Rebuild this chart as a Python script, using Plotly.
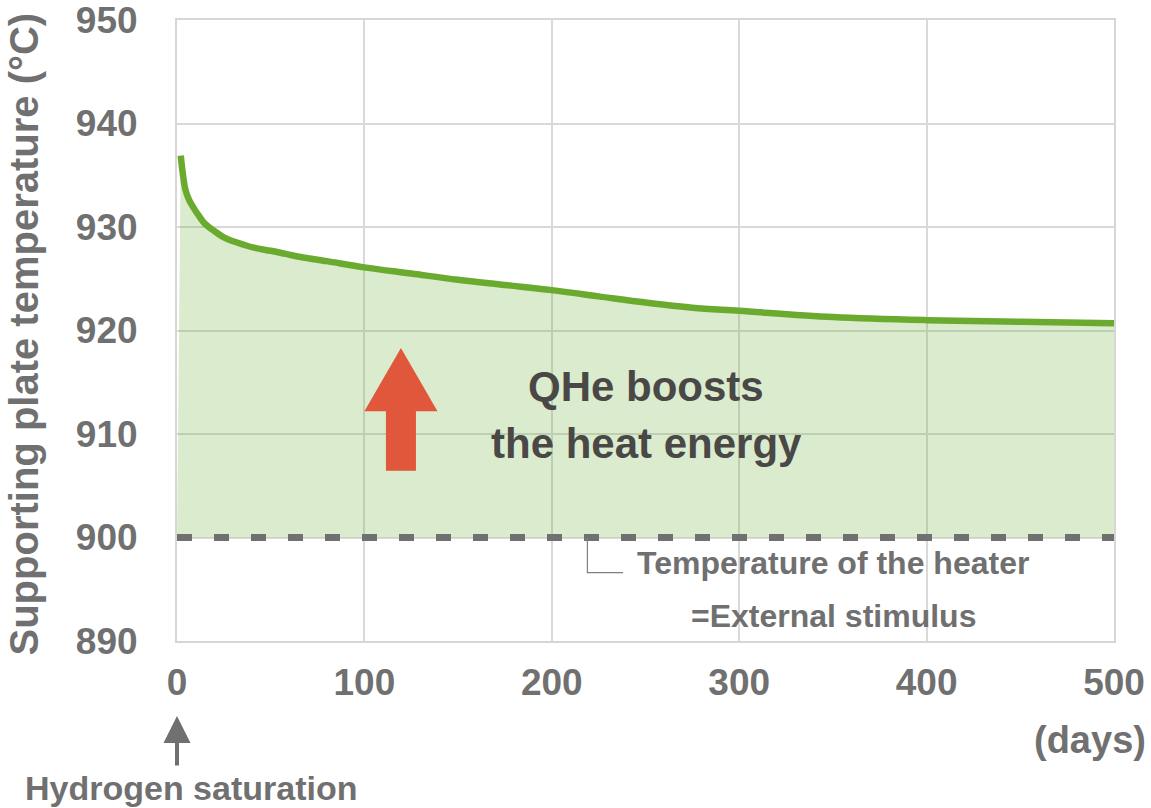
import plotly.graph_objects as go

# ---- data ----
days = [2, 3, 4.5, 6.5, 8.7, 12, 15, 20, 25, 32, 41, 50, 58, 66, 80, 100,
        125, 150, 175, 200, 225, 250, 275, 300, 350, 400, 450, 500]
plate_temp = [936.9, 935.3, 933.6, 932.6, 931.9, 931.0, 930.3, 929.6, 929.0,
              928.5, 928.0, 927.7, 927.4, 927.1, 926.7, 926.1, 925.5, 924.9,
              924.4, 923.9, 923.3, 922.7, 922.2, 921.9, 921.3, 921.0, 920.85, 920.7]
heater_days = [0, 500]
heater_temp = [900, 900]

x_ticks = [0, 100, 200, 300, 400, 500]
y_ticks = [890, 900, 910, 920, 930, 940, 950]

GREEN = "#6aab2f"
FILL = "rgba(106,171,47,0.24)"
GRAY = "#707070"
DARK = "#4a4747"
RED = "#e0573b"
FONT = "Liberation Sans, Arial, sans-serif"

fig = go.Figure()
# baseline for fill
fig.add_trace(go.Scatter(x=heater_days, y=heater_temp, mode="lines",
                         line=dict(width=0, color="rgba(0,0,0,0)"),
                         hoverinfo="skip", showlegend=False))
fig.add_trace(go.Scatter(x=days, y=plate_temp, mode="lines", fill="tonexty",
                         fillcolor=FILL, line=dict(width=0, color="rgba(0,0,0,0)"),
                         hoverinfo="skip", showlegend=False))
# heater dashed line
fig.add_trace(go.Scatter(x=heater_days, y=heater_temp, mode="lines",
                         line=dict(color=GRAY, width=7, dash="15px,22px"),
                         showlegend=False))
# plate temperature curve
fig.add_trace(go.Scatter(x=days, y=plate_temp, mode="lines",
                         line=dict(color=GREEN, width=6.5, shape="spline", smoothing=1.0),
                         showlegend=False))

# red block arrow (decoration)
ax_c, tip, base, bottom, hw, sw = 119.5, 918.3, 912.2, 906.45, 19.5, 8.0
fig.add_shape(type="path",
              path=(f"M {ax_c},{tip} L {ax_c+hw},{base} L {ax_c+sw},{base} "
                    f"L {ax_c+sw},{bottom} L {ax_c-sw},{bottom} L {ax_c-sw},{base} "
                    f"L {ax_c-hw},{base} Z"),
              xref="x", yref="y", fillcolor=RED, line=dict(width=0))

# leader line for heater label
fig.add_shape(type="path", path="M 219,900 L 219,896.6 L 238,896.6",
              xref="x", yref="y", line=dict(color="#808080", width=1.2))

tick_font = dict(family=FONT, size=37, color=GRAY, weight="bold")

fig.update_layout(
    width=1151, height=808,
    margin=dict(l=177, r=37, t=20, b=167, autoexpand=False),
    plot_bgcolor="white", paper_bgcolor="white",
    xaxis=dict(range=[0, 500], tickvals=x_ticks, showgrid=True, gridcolor="#d9d9d9",
               gridwidth=2, showline=True, linecolor="#d6d6d6", linewidth=2, mirror=True,
               zeroline=False, ticks="", tickfont=tick_font, ticklabelstandoff=8,
               ticklabeloverflow="allow", automargin=False),
    yaxis=dict(range=[890, 950], tickvals=y_ticks, showgrid=True, gridcolor="#d9d9d9",
               gridwidth=2, showline=True, linecolor="#d6d6d6", linewidth=2, mirror=True,
               zeroline=False, ticks="", tickfont=tick_font, ticklabelstandoff=30,
               ticklabeloverflow="allow", automargin=False),
)

ann = []
# y-axis title
ann.append(dict(text="Supporting plate temperature (°C)", textangle=-90,
                x=0, xref="paper", xshift=23 - 177, xanchor="center",
                y=0.5, yref="paper", yanchor="middle", yshift=-4,
                showarrow=False,
                font=dict(family=FONT, size=40, color=GRAY, weight="bold")))
# (days)
ann.append(dict(text="(days)", x=1, xref="paper", xshift=34, xanchor="right",
                y=0, yref="paper", yshift=-99, yanchor="middle", showarrow=False,
                font=dict(family=FONT, size=38, color=GRAY, weight="bold")))
# Hydrogen saturation
ann.append(dict(text="Hydrogen saturation", x=0, xref="paper", xshift=14, xanchor="center",
                y=0, yref="paper", yshift=-147, yanchor="middle", showarrow=False,
                font=dict(family=FONT, size=34, color=GRAY, weight="bold")))
# gray arrow pointing to day 0
ann.append(dict(text="", x=0, xref="x", y=0, yref="paper", yshift=-75,
                ax=0, ay=51, showarrow=True, arrowhead=2, arrowwidth=4,
                arrowsize=1.35, arrowcolor=GRAY))
# QHe text
ann.append(dict(text="QHe boosts", x=250, y=914.55, xref="x", yref="y",
                xanchor="center", yanchor="middle", showarrow=False,
                font=dict(family=FONT, size=42, color=DARK, weight="bold")))
ann.append(dict(text="the heat energy", x=250.5, y=909.1, xref="x", yref="y",
                xanchor="center", yanchor="middle", showarrow=False,
                font=dict(family=FONT, size=42, color=DARK, weight="bold")))
# heater label
ann.append(dict(text="Temperature of the heater", x=350.3, y=897.5, xref="x", yref="y",
                xanchor="center", yanchor="middle", showarrow=False,
                font=dict(family=FONT, size=32, color=GRAY, weight="bold")))
ann.append(dict(text="=External stimulus", x=350.5, y=892.45, xref="x", yref="y",
                xanchor="center", yanchor="middle", showarrow=False,
                font=dict(family=FONT, size=32, color=GRAY, weight="bold")))
fig.update_layout(annotations=ann)

fig.write_html("out.html", config={"displayModeBar": False},
               post_script="document.body.style.margin='0';")
